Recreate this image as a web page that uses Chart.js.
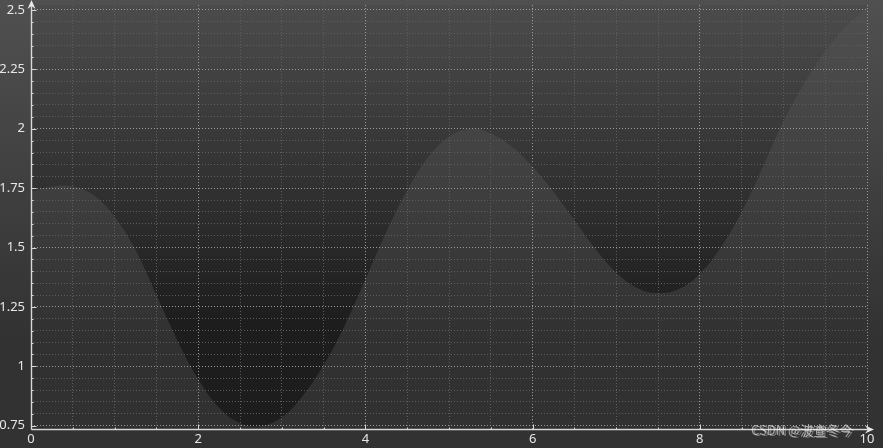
<!DOCTYPE html>
<html>
<head>
<meta charset="utf-8">
<script src="https://cdn.jsdelivr.net/npm/chart.js@4/dist/chart.umd.min.js"></script>
<style>
  html, body { margin: 0; padding: 0; }
  body {
    width: 883px;
    height: 448px;
    overflow: hidden;
    background: linear-gradient(to bottom, #505050 0px, #323232 340px, #323232 448px);
  }
  #wrap { position: relative; width: 883px; height: 448px; }
  canvas { display: block; }
</style>
</head>
<body>
<div id="wrap"><canvas id="plot" width="883" height="448"></canvas></div>
<script>
// curve samples
const xValues = [0, 0.25, 0.5, 0.75, 1, 1.25, 1.5, 1.75, 2, 2.25, 2.5, 2.75, 3, 3.25, 3.5, 3.75, 4,
                 4.25, 4.5, 4.75, 5, 5.25, 5.5, 5.75, 6, 6.25, 6.5, 6.75, 7, 7.25, 7.5, 7.75, 8,
                 8.25, 8.5, 8.75, 9, 9.25, 9.5, 9.75, 10];
const yValues = [1.735, 1.757, 1.757, 1.72, 1.63, 1.49, 1.30, 1.11, 0.945, 0.825, 0.76, 0.748, 0.785, 0.875, 1.005, 1.17, 1.365,
                 1.565, 1.74, 1.88, 1.965, 2.0, 1.98, 1.925, 1.84, 1.735, 1.615, 1.495, 1.395, 1.33, 1.308, 1.325, 1.39,
                 1.5, 1.65, 1.835, 2.03, 2.19, 2.325, 2.43, 2.51];

// tick labels
const xMajorTicks = [0, 2, 4, 6, 8, 10];
const yMajorTicks = [0.75, 1, 1.25, 1.5, 1.75, 2, 2.25, 2.5];
const xSubPerMajor = 4;   // sub ticks every 0.5
const ySubPerMajor = 5;   // sub ticks every 0.05

function withSubTicks(majors, sub) {
    const out = [];
    for (let i = 0; i < majors.length; i++) {
        out.push({ value: majors[i], major: true });
        if (i < majors.length - 1) {
            const step = (majors[i + 1] - majors[i]) / sub;
            for (let k = 1; k < sub; k++) {
                out.push({ value: +(majors[i] + k * step).toFixed(6), major: false });
            }
        }
    }
    return out;
}

const xTicks = withSubTicks(xMajorTicks, xSubPerMajor);
const yTicks = withSubTicks(yMajorTicks, ySubPerMajor);

const labelFont = { family: 'Noto Sans', size: 13 };
const labelColor = '#e6e6e6';

// plot area background gradient, under the data
const axisRectBackground = {
    id: 'axisRectBackground',
    beforeDraw(chart) {
        const { ctx, chartArea } = chart;
        const g = ctx.createLinearGradient(0, 0, 0, chart.height);
        g.addColorStop(0, '#4c4c4c');
        g.addColorStop(0.72, '#1d1d1d');
        g.addColorStop(1, '#1d1d1d');
        ctx.save();
        ctx.fillStyle = g;
        ctx.fillRect(chartArea.left, chartArea.top, chartArea.right - chartArea.left, chartArea.bottom - chartArea.top);
        ctx.restore();
    }
};

// axis lines with arrows and inward ticks
const axisDecor = {
    id: 'axisDecor',
    afterDraw(chart) {
        const { ctx, chartArea, scales } = chart;
        const x0 = Math.round(scales.x.getPixelForValue(0)) + 0.5;
        const yb = Math.round(chartArea.bottom) + 0.5;
        ctx.save();
        ctx.strokeStyle = '#d8d8d8';
        ctx.fillStyle = '#e8e8e8';
        ctx.lineWidth = 1.4;

        // y axis
        ctx.beginPath();
        ctx.moveTo(x0, yb);
        ctx.lineTo(x0, 4);
        ctx.stroke();
        ctx.beginPath();
        ctx.moveTo(x0, 0);
        ctx.lineTo(x0 - 4, 9);
        ctx.lineTo(x0, 6);
        ctx.lineTo(x0 + 4, 9);
        ctx.closePath();
        ctx.fill();

        // x axis
        const xEnd = chartArea.right + 7;
        ctx.beginPath();
        ctx.moveTo(x0, yb);
        ctx.lineTo(xEnd - 3, yb);
        ctx.stroke();
        ctx.beginPath();
        ctx.moveTo(xEnd, yb);
        ctx.lineTo(xEnd - 9, yb - 4);
        ctx.lineTo(xEnd - 6, yb);
        ctx.lineTo(xEnd - 9, yb + 4);
        ctx.closePath();
        ctx.fill();

        ctx.lineWidth = 1;
        yTicks.forEach(t => {
            const py = Math.round(scales.y.getPixelForValue(t.value)) + 0.5;
            ctx.beginPath();
            ctx.moveTo(x0, py);
            ctx.lineTo(x0 + (t.major ? 5 : 2), py);
            ctx.stroke();
        });
        xTicks.forEach(t => {
            const px = Math.round(scales.x.getPixelForValue(t.value)) + 0.5;
            ctx.beginPath();
            ctx.moveTo(px, yb);
            ctx.lineTo(px, yb - (t.major ? 5 : 2));
            ctx.stroke();
        });

        // watermark
        ctx.font = '13px "Noto Sans CJK SC", "Noto Sans"';
        ctx.textBaseline = 'middle';
        ctx.fillStyle = 'rgba(255,255,255,0.55)';
        ctx.fillText('CSDN @波查冬今', 751, 430);
        ctx.fillStyle = 'rgba(255,255,255,0.35)';
        ctx.fillText('CSDN @波查冬今', 753, 431);
        ctx.restore();
    }
};

const chart = new Chart(document.getElementById('plot'), {
    type: 'line',
    data: {
        datasets: [{
            data: xValues.map((x, i) => ({ x: x, y: yValues[i] })),
            borderWidth: 0,
            pointRadius: 0,
            tension: 0.4,
            fill: 'origin',
            backgroundColor: (c) => {
                const ch = c.chart;
                const g = ch.ctx.createLinearGradient(0, 0, 0, ch.height);
                g.addColorStop(0, '#505050');
                g.addColorStop(0.76, '#313131');
                g.addColorStop(1, '#313131');
                return g;
            }
        }]
    },
    options: {
        responsive: false,
        animation: false,
        devicePixelRatio: 1,
        layout: { padding: { top: 5, right: 16, left: 0, bottom: 0 } },
        plugins: {
            legend: { display: false },
            tooltip: { enabled: false }
        },
        scales: {
            x: {
                type: 'linear',
                z: 1,
                min: 0,
                max: 10,
                afterBuildTicks: (s) => { s.ticks = xTicks.map(t => ({ value: t.value })); },
                afterFit: (s) => { s.height = 19.5; s.paddingLeft = 0; s.paddingRight = 0; },
                ticks: {
                    autoSkip: false,
                    maxRotation: 0,
                    padding: 3,
                    color: labelColor,
                    font: labelFont,
                    callback: (v) => (xMajorTicks.includes(v) ? String(v) : '')
                },
                grid: {
                    z: 1,
                    drawTicks: false,
                    lineWidth: 1,
                    color: (c) => (xMajorTicks.includes(c.tick.value) ? '#9a9a9a' : '#5e5e5e')
                },
                border: { display: false, dash: [1, 2] }
            },
            y: {
                type: 'linear',
                z: 1,
                min: 0.738,
                max: 2.521,
                afterBuildTicks: (s) => { s.ticks = yTicks.map(t => ({ value: t.value })); },
                afterFit: (s) => { s.width = 31; s.paddingTop = 0; s.paddingBottom = 0; },
                ticks: {
                    autoSkip: false,
                    padding: 6,
                    color: labelColor,
                    font: labelFont,
                    callback: (v) => (yMajorTicks.includes(v) ? String(v) : '')
                },
                grid: {
                    z: 1,
                    drawTicks: false,
                    lineWidth: 1,
                    color: (c) => (yMajorTicks.includes(c.tick.value) ? '#9a9a9a' : '#5e5e5e')
                },
                border: { display: false, dash: [1, 2] }
            }
        }
    },
    plugins: [axisRectBackground, axisDecor]
});
</script>
</body>
</html>
